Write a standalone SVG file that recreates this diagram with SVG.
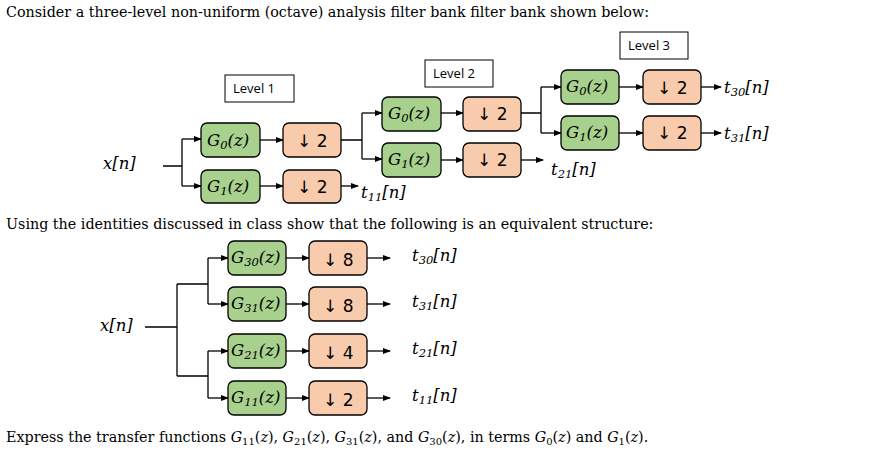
<svg xmlns="http://www.w3.org/2000/svg" width="872" height="452" viewBox="0 0 872 452">
<defs><marker id="a" markerWidth="8" markerHeight="6" refX="7" refY="3" orient="auto" markerUnits="userSpaceOnUse"><path d="M0,0L8,3L0,6z" fill="#000"/></marker></defs>
<style>
.t{font-family:"DejaVu Serif","Liberation Serif",serif;font-size:14.3px;fill:#000}
.m{font-family:"DejaVu Serif","Liberation Serif",serif;font-style:italic;font-size:16.5px;fill:#000}
.s{font-size:11.5px}
.n{font-family:"DejaVu Sans",sans-serif;font-size:17px;fill:#000}
.g{fill:#a9d18e;stroke:#000;stroke-width:1.3}
.d{fill:#f8cbad;stroke:#000;stroke-width:1.3}
.l{fill:#fff;stroke:#000;stroke-width:1}
.lt{font-family:"Open Sans",sans-serif;font-size:13px;fill:#000}
.c{fill:none;stroke:#000;stroke-width:1.3}
.ar{marker-end:url(#a)}
</style>
<rect width="872" height="452" fill="#fff"/>
<text class="t" x="6" y="17">Consider a three-level non-uniform (octave) analysis filter bank filter bank shown below:</text>
<text class="t" x="6" y="229">Using the identities discussed in class show that the following is an equivalent structure:</text>
<text class="t" x="6" y="442">Express the transfer functions <tspan font-style="italic">G</tspan><tspan font-size="10" dy="3">11</tspan><tspan dy="-3">(</tspan><tspan font-style="italic">z</tspan>), <tspan font-style="italic">G</tspan><tspan font-size="10" dy="3">21</tspan><tspan dy="-3">(</tspan><tspan font-style="italic">z</tspan>), <tspan font-style="italic">G</tspan><tspan font-size="10" dy="3">31</tspan><tspan dy="-3">(</tspan><tspan font-style="italic">z</tspan>), and <tspan font-style="italic">G</tspan><tspan font-size="10" dy="3">30</tspan><tspan dy="-3">(</tspan><tspan font-style="italic">z</tspan>), in terms <tspan font-style="italic">G</tspan><tspan font-size="10" dy="3">0</tspan><tspan dy="-3">(</tspan><tspan font-style="italic">z</tspan>) and <tspan font-style="italic">G</tspan><tspan font-size="10" dy="3">1</tspan><tspan dy="-3">(</tspan><tspan font-style="italic">z</tspan>).</text>
<g id="levels">
<rect class="l" x="225" y="75" width="69" height="27"/><text class="lt" x="233" y="93">Level 1</text>
<rect class="l" x="425" y="60" width="68" height="27"/><text class="lt" x="433" y="78">Level 2</text>
<rect class="l" x="620" y="32" width="68" height="27"/><text class="lt" x="628" y="50">Level 3</text>
</g>
<g id="connectors">
<path class="c" d="M163,166H182M182,139V186"/>
<path class="c ar" d="M182,139H201"/><path class="c ar" d="M182,186H201"/>
<path class="c ar" d="M260,140H283"/><path class="c ar" d="M260,186H283"/>
<path class="c" d="M341,140H362M362,113V159" stroke-width="1.8"/>
<path class="c ar" d="M362,113H382"/><path class="c ar" d="M362,159H382"/>
<path class="c ar" d="M341,186H358"/>
<path class="c ar" d="M441,113H463"/><path class="c ar" d="M441,160H463"/>
<path class="c" d="M521,113H541M541,87V133"/>
<path class="c ar" d="M541,87H561"/><path class="c ar" d="M541,133H561"/>
<path class="c ar" d="M521,160H543"/>
<path class="c ar" d="M619,87H643"/><path class="c ar" d="M619,133H643"/>
<path class="c ar" d="M701,87H721"/><path class="c ar" d="M701,133H721"/>
<path class="c" d="M145,327H177M177,284V376M177,284H208M177,376H208M208,258V304M208,351V398"/>
<path class="c ar" d="M208,258H228"/><path class="c ar" d="M208,304H228"/><path class="c ar" d="M208,351H228"/><path class="c ar" d="M208,398H228"/>
<path class="c ar" d="M286,258H309"/><path class="c ar" d="M286,304H309"/><path class="c ar" d="M286,351H309"/><path class="c ar" d="M286,398H309"/>
<path class="c ar" d="M367,258H390"/><path class="c ar" d="M367,304H390"/><path class="c ar" d="M367,351H390"/><path class="c ar" d="M367,398H390"/>
</g>
<g id="top-nodes">
<g id="l1g0"><rect class="g" x="201" y="123" width="59" height="34" rx="6"/><text class="m" x="207" y="146">G<tspan class="s" dy="3">0</tspan><tspan dy="-3">(z)</tspan></text></g>
<g id="l1d0"><rect class="d" x="283" y="123" width="58" height="34" rx="6"/><text class="n" x="297" y="147">↓ 2</text></g>
<g id="l1g1"><rect class="g" x="201" y="170" width="59" height="33" rx="6"/><text class="m" x="207" y="192">G<tspan class="s" dy="3">1</tspan><tspan dy="-3">(z)</tspan></text></g>
<g id="l1d1"><rect class="d" x="283" y="170" width="58" height="33" rx="6"/><text class="n" x="297" y="193">↓ 2</text></g>
<g id="l2g0"><rect class="g" x="382" y="97" width="59" height="34" rx="6"/><text class="m" x="388" y="119">G<tspan class="s" dy="3">0</tspan><tspan dy="-3">(z)</tspan></text></g>
<g id="l2d0"><rect class="d" x="463" y="97" width="58" height="34" rx="6"/><text class="n" x="477" y="120">↓ 2</text></g>
<g id="l2g1"><rect class="g" x="382" y="143" width="59" height="34" rx="6"/><text class="m" x="388" y="165">G<tspan class="s" dy="3">1</tspan><tspan dy="-3">(z)</tspan></text></g>
<g id="l2d1"><rect class="d" x="463" y="143" width="58" height="34" rx="6"/><text class="n" x="477" y="166">↓ 2</text></g>
<g id="l3g0"><rect class="g" x="561" y="70" width="58" height="34" rx="6"/><text class="m" x="566" y="92">G<tspan class="s" dy="3">0</tspan><tspan dy="-3">(z)</tspan></text></g>
<g id="l3d0"><rect class="d" x="643" y="70" width="58" height="34" rx="6"/><text class="n" x="657" y="94">↓ 2</text></g>
<g id="l3g1"><rect class="g" x="561" y="116" width="58" height="34" rx="6"/><text class="m" x="566" y="138">G<tspan class="s" dy="3">1</tspan><tspan dy="-3">(z)</tspan></text></g>
<g id="l3d1"><rect class="d" x="643" y="116" width="58" height="34" rx="6"/><text class="n" x="657" y="139">↓ 2</text></g>
<text class="m" x="103" y="169">x[n]</text>
<text class="m" x="724" y="93">t<tspan class="s" dy="3">30</tspan><tspan dy="-3">[n]</tspan></text>
<text class="m" x="724" y="139">t<tspan class="s" dy="3">31</tspan><tspan dy="-3">[n]</tspan></text>
<text class="m" x="551" y="175">t<tspan class="s" dy="3">21</tspan><tspan dy="-3">[n]</tspan></text>
<text class="m" x="361" y="198">t<tspan class="s" dy="3">11</tspan><tspan dy="-3">[n]</tspan></text>
</g>
<g id="bottom-nodes">
<g id="g30"><rect class="g" x="228" y="241" width="58" height="34" rx="6"/><text class="m" x="231" y="263">G<tspan class="s" dy="3">30</tspan><tspan dy="-3">(z)</tspan></text></g>
<g id="d30"><rect class="d" x="309" y="241" width="58" height="34" rx="6"/><text class="n" x="323" y="266">↓ 8</text></g>
<g id="g31"><rect class="g" x="228" y="287" width="58" height="34" rx="6"/><text class="m" x="231" y="309">G<tspan class="s" dy="3">31</tspan><tspan dy="-3">(z)</tspan></text></g>
<g id="d31"><rect class="d" x="309" y="287" width="58" height="34" rx="6"/><text class="n" x="323" y="312">↓ 8</text></g>
<g id="g21"><rect class="g" x="228" y="334" width="58" height="34" rx="6"/><text class="m" x="231" y="356">G<tspan class="s" dy="3">21</tspan><tspan dy="-3">(z)</tspan></text></g>
<g id="d21"><rect class="d" x="309" y="334" width="58" height="34" rx="6"/><text class="n" x="323" y="359">↓ 4</text></g>
<g id="g11"><rect class="g" x="228" y="381" width="58" height="34" rx="6"/><text class="m" x="231" y="403">G<tspan class="s" dy="3">11</tspan><tspan dy="-3">(z)</tspan></text></g>
<g id="d11"><rect class="d" x="309" y="381" width="58" height="34" rx="6"/><text class="n" x="323" y="406">↓ 2</text></g>
<text class="m" x="100" y="331">x[n]</text>
<text class="m" x="412" y="261">t<tspan class="s" dy="3">30</tspan><tspan dy="-3">[n]</tspan></text>
<text class="m" x="412" y="307">t<tspan class="s" dy="3">31</tspan><tspan dy="-3">[n]</tspan></text>
<text class="m" x="412" y="354">t<tspan class="s" dy="3">21</tspan><tspan dy="-3">[n]</tspan></text>
<text class="m" x="412" y="401">t<tspan class="s" dy="3">11</tspan><tspan dy="-3">[n]</tspan></text>
</g>
</svg>
